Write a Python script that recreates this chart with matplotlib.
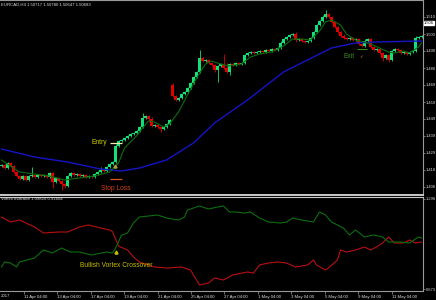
import matplotlib
matplotlib.use("Agg")
import matplotlib.pyplot as plt
import numpy as np

plt.rcParams['font.family'] = ['Liberation Sans', 'DejaVu Sans']

# EURCAD H4 candles (one per bar, bar index on x)
first_open = 1.4208
gap_bar = 57          # Monday gap after the French election
gap_open = 1.4694
closes = [
    1.4214, 1.4196, 1.4226, 1.4208, 1.4172, 1.4148, 1.4130, 1.4148, 1.4124, 1.4148,
    1.4154, 1.4142, 1.4154, 1.4148, 1.4154, 1.4142, 1.4166, 1.4112, 1.4136, 1.4118,
    1.4100, 1.4088, 1.4148, 1.4166, 1.4154, 1.4160, 1.4148, 1.4154, 1.4142, 1.4148,
    1.4142, 1.4160, 1.4172, 1.4184, 1.4178, 1.4202, 1.4220, 1.4232, 1.4328, 1.4358,
    1.4364, 1.4376, 1.4388, 1.4400, 1.4406, 1.4418, 1.4442, 1.4496, 1.4508, 1.4490,
    1.4448, 1.4454, 1.4442, 1.4430, 1.4442, 1.4460, 1.4484, 1.4628, 1.4604, 1.4616,
    1.4640, 1.4652, 1.4676, 1.4706, 1.4742, 1.4772, 1.4856, 1.4838, 1.4844, 1.4826,
    1.4814, 1.4784, 1.4808, 1.4820, 1.4796, 1.4772, 1.4820, 1.4814, 1.4826, 1.4820,
    1.4826, 1.4874, 1.4886, 1.4892, 1.4886, 1.4892, 1.4898, 1.4892, 1.4904, 1.4898,
    1.4910, 1.4904, 1.4916, 1.4946, 1.4970, 1.4982, 1.4994, 1.5000, 1.4964, 1.4970,
    1.4958, 1.4952, 1.4958, 1.4976, 1.5012, 1.5054, 1.5078, 1.5102, 1.5120, 1.5102,
    1.5072, 1.5042, 1.5012, 1.4988, 1.4976, 1.4970, 1.4976, 1.4964, 1.4970, 1.4940,
    1.4928, 1.4958, 1.4970, 1.4922, 1.4904, 1.4910, 1.4886, 1.4856, 1.4874, 1.4844,
    1.4898, 1.4910, 1.4904, 1.4886, 1.4892, 1.4880, 1.4892, 1.4898, 1.4976, 1.4982,
    1.4988]
# wick sizes in pips above / below the body
upper_wick = [
    6, 4, 6, 5, 4, 6, 4, 5, 6, 4,
    48, 5, 4, 6, 5, 4, 6, 5, 4, 6,
    5, 4, 6, 5, 4, 6, 5, 4, 6, 5,
    4, 6, 5, 18, 4, 6, 5, 6, 12, 6,
    5, 4, 6, 5, 4, 6, 8, 30, 6, 5,
    12, 5, 4, 6, 5, 4, 6, 12, 5, 4,
    6, 5, 4, 6, 5, 6, 48, 6, 5, 4,
    6, 5, 4, 6, 60, 30, 6, 5, 4, 6,
    5, 6, 4, 5, 6, 4, 5, 6, 4, 5,
    6, 4, 5, 12, 6, 5, 4, 6, 12, 5,
    4, 6, 5, 4, 6, 8, 6, 10, 24, 6,
    5, 4, 6, 5, 12, 4, 6, 5, 4, 6,
    5, 12, 6, 5, 4, 6, 5, 4, 6, 5,
    6, 5, 4, 6, 5, 4, 6, 5, 12, 6,
    5]
lower_wick = [
    5, 6, 4, 5, 6, 4, 6, 5, 6, 4,
    6, 5, 4, 6, 5, 4, 6, 36, 5, 6,
    36, 12, 5, 4, 6, 5, 4, 6, 5, 4,
    6, 5, 4, 6, 5, 4, 6, 5, 6, 5,
    4, 6, 5, 4, 6, 5, 4, 6, 5, 18,
    6, 5, 4, 18, 5, 6, 4, 6, 6, 5,
    4, 6, 5, 4, 6, 5, 6, 5, 4, 6,
    5, 12, 72, 5, 6, 6, 18, 5, 4, 6,
    5, 4, 6, 5, 4, 6, 5, 4, 6, 5,
    4, 6, 5, 4, 6, 5, 4, 6, 12, 5,
    6, 5, 4, 6, 5, 4, 6, 5, 4, 6,
    5, 4, 6, 5, 4, 6, 5, 4, 6, 8,
    5, 4, 6, 5, 8, 4, 6, 18, 5, 12,
    6, 5, 4, 6, 5, 4, 6, 5, 6, 5,
    4]

# fast SMA (green) and slow MA (blue), read at these bars
sma_bars = [0, 6, 16, 21, 26, 31, 36, 39, 41, 45, 47, 49, 51, 54, 56, 59, 62, 65, 68, 70,
            73, 76, 80, 83, 86, 90, 94, 97, 100, 103, 106, 108, 110, 113, 115, 118, 121,
            123, 126, 129, 131, 134, 136, 139, 140]
sma = [1.4244, 1.4172, 1.4148, 1.4124, 1.4136, 1.4148, 1.4172, 1.4226, 1.4316, 1.4388,
       1.4436, 1.4478, 1.4472, 1.4442, 1.4460, 1.4532, 1.4634, 1.4736, 1.4820, 1.4838,
       1.4820, 1.4808, 1.4820, 1.4862, 1.4880, 1.4892, 1.4928, 1.4970, 1.4970, 1.4964,
       1.5018, 1.5072, 1.5084, 1.5054, 1.5000, 1.4964, 1.4952, 1.4940, 1.4916, 1.4892,
       1.4886, 1.4898, 1.4886, 1.4922, 1.4946]
ma_bars = [0, 11, 22, 33, 40, 46, 55, 64, 71, 82, 94, 102, 110, 118, 125, 140]
ma = [1.4310, 1.4262, 1.4232, 1.4190, 1.4178, 1.4196, 1.4244, 1.4346, 1.4466, 1.4604,
      1.4772, 1.4844, 1.4916, 1.4946, 1.4952, 1.4958]

# Vortex indicator
vip_bars = [0, 1, 3, 5, 6, 11, 14, 17, 20, 23, 26, 30, 35, 37, 38, 40, 42, 44, 46, 52,
            55, 59, 61, 62, 64, 66, 69, 72, 74, 76, 78, 81, 83, 86, 89, 93, 95, 97, 100,
            104, 106, 108, 110, 114, 116, 118, 121, 124, 127, 129, 133, 136, 139, 140]
vi_plus = [0.8256, 0.8601, 0.8532, 0.8256, 0.8601, 0.8878, 0.9431, 0.9223, 0.9569, 0.9292,
           0.9292, 0.9085, 0.9292, 0.9223, 0.9550, 1.0450, 1.0605, 1.1296, 1.1711, 1.1849,
           1.1642, 1.1504, 1.1711, 1.2195, 1.2333, 1.2471, 1.2264, 1.2402, 1.2471, 1.2057,
           1.2057, 1.1987, 1.2057, 1.1642, 1.1365, 1.1296, 1.1365, 1.1642, 1.1504, 1.1365,
           1.2057, 1.1849, 1.1365, 1.0951, 1.0467, 1.0813, 1.0329, 1.0467, 1.0329, 0.9983,
           0.9983, 0.9914, 1.0329, 1.0260]
vim_bars = [0, 3, 6, 11, 14, 19, 22, 26, 29, 33, 36, 37, 39, 42, 44, 46, 51, 55, 60, 63,
            66, 69, 71, 74, 77, 82, 84, 86, 89, 92, 95, 98, 102, 104, 105, 108, 109, 112,
            113, 115, 118, 121, 123, 125, 127, 129, 131, 134, 136, 138, 140]
vi_minus = [1.1711, 1.1365, 1.1504, 1.1020, 1.0605, 1.0674, 1.0674, 1.1020, 1.1158, 1.0951,
            1.0813, 1.0700, 0.9700, 0.9431, 0.8947, 0.8601, 0.8256, 0.8186, 0.8256, 0.8048,
            0.7011, 0.7150, 0.7495, 0.7357, 0.7702, 0.7910, 0.7841, 0.8394, 0.8532, 0.8601,
            0.8532, 0.8256, 0.8394, 0.8739, 0.8394, 0.8048, 0.8186, 0.8739, 0.9431, 0.9292,
            0.9431, 0.9638, 0.9431, 0.9638, 0.9914, 1.0329, 0.9914, 0.9914, 1.0122, 0.9914,
            0.9983]

# price scale (labels are cut by the window edge in the screenshot)
price_ticks = [1.5102, 1.5000, 1.4898, 1.4796, 1.4694, 1.4592, 1.4490, 1.4388, 1.4286,
               1.4184, 1.4082]
vortex_ticks = [1.2955, 0.6735]
date_labels = ["11 Apr 04:00", "13 Apr 04:00", "17 Apr 04:00", "19 Apr 04:00",
               "21 Apr 04:00", "25 Apr 04:00", "27 Apr 04:00", "1 May 04:00", "3 May 04:00",
               "5 May 04:00", "9 May 04:00", "11 May 04:00"]
date_pos = [7.5, 18.6, 29.8, 40.9, 52.0, 63.2, 74.3, 85.4, 96.6, 107.7, 118.8, 130.0]

bull, bear = "#12e078", "#e00000"
txt = "#dcdcdc"
frame = "#9a9a9a"

W, H = 436.0, 300.0
fig = plt.figure(figsize=(W / 100, H / 100), dpi=100, facecolor="black")
ax = fig.add_axes([0, 1 - 195 / H, 423 / W, 195 / H], facecolor="black")
axv = fig.add_axes([0, 1 - 291 / H, 423 / W, 94 / H], facecolor="black")

# candles
o = np.array([first_open] + closes[:-1])
o[gap_bar] = gap_open
c = np.array(closes)
hi = np.maximum(o, c) + np.array(upper_wick) / 1e4
lo = np.minimum(o, c) - np.array(lower_wick) / 1e4
x = np.arange(len(c))
cols = [bull if cc >= oo else bear for oo, cc in zip(o, c)]
ax.vlines(x, lo, hi, colors=cols, lw=0.6)
ax.bar(x, np.maximum(np.abs(c - o), 0.0004), bottom=np.minimum(o, c), width=0.7,
       color=cols, linewidth=0)

ax.plot(ma_bars, ma, color="#1414c8", lw=1.0)
ax.plot(sma_bars, sma, color="#0b6e0b", lw=0.8)

# trade annotations
ax.hlines(1.4346, 36.2, 40.2, color="#f0f0a8", lw=0.9)
ax.text(32.5, 1.4346, "Entry", color="#d2d200", fontsize=4.8, ha="center", va="center")
ax.plot([37.8], [1.4208], marker="^", ms=2.2, color="#a8a040", lw=0)
ax.hlines(1.4130, 36.2, 40.2, color="#e05020", lw=0.9)
ax.text(38.2, 1.4076, "Stop Loss", color="#d84010", fontsize=4.8, ha="center", va="center")
ax.hlines(1.4910, 118.5, 121.8, color="#3c8c1c", lw=0.8)
ax.text(115.8, 1.4868, "Exit", color="#3c8c1c", fontsize=4.8, ha="center", va="center")
ax.text(119.8, 1.4862, "✓", color="#c0b020", fontsize=3.2, ha="center", va="center",
        family="DejaVu Sans")

ax.set_xlim(-0.5, 140.5)
ax.set_ylim(1.4034, 1.5204)
ax.set_xticks([])
ax.yaxis.tick_right()
ax.set_yticks(price_ticks)
ax.set_yticklabels([f"{p:.3f}" for p in price_ticks])
ax.tick_params(axis="y", colors=frame, labelcolor=txt, labelsize=2.9, length=1.5,
               width=0.5, pad=0.5)
ax.text(1.0 + 1 / 423, 1.5066, "1.506", transform=ax.get_yaxis_transform(),
        fontsize=2.9, color="black", va="center", ha="left",
        bbox=dict(boxstyle="square,pad=0.1", fc="white", ec="white"))

# vortex pane
axv.plot(vim_bars, vi_minus, color="#b81010", lw=0.8)
axv.plot(vip_bars, vi_plus, color="#0c6e0c", lw=0.8)
axv.plot([38.2], [0.929], marker="^", ms=2.2, color="#c8c000", lw=0)
axv.text(38.2, 0.8325, "Bullish Vortex Crossover", color="#c8c000", fontsize=4.8,
         ha="center", va="center")
axv.set_xlim(-0.5, 140.5)
axv.set_ylim(0.6597, 1.3093)
axv.yaxis.tick_right()
axv.set_yticks(vortex_ticks)
axv.set_yticklabels([f"{v:.3f}" for v in vortex_ticks])
axv.tick_params(axis="y", colors=frame, labelcolor=txt, labelsize=2.9, length=1.5,
                width=0.5, pad=0.5)
axv.set_xticks(date_pos)
axv.set_xticklabels(date_labels)
for lbl in axv.get_xticklabels():
    lbl.set_ha("left")
axv.tick_params(axis="x", colors=frame, labelcolor=txt, labelsize=3.1, length=2,
                width=0.5, pad=1)
axv.text(0.5 / 423, -0.055, "2017", transform=axv.transAxes, fontsize=3.1, color=txt,
         ha="left", va="center")

for a in (ax, axv):
    a.spines["left"].set_visible(False)
    for s in ("top", "right", "bottom"):
        a.spines[s].set_color(frame)
        a.spines[s].set_linewidth(0.8)
ax.spines["bottom"].set_color("#c8c8c8")
ax.spines["bottom"].set_linewidth(1.4)
axv.spines["top"].set_color("#c8c8c8")

fig.text(0.5 / W, 1 - 4.5 / H, "EURCAD,H4 1.50717 1.50780 1.50647 1.50683", fontsize=3.1,
         color=txt, ha="left", va="center")
fig.text(0.5 / W, 1 - 199.5 / H, "Vortex Indicator 1.09816 0.91604", fontsize=3.1,
         color=txt, ha="left", va="center")

fig.savefig("out.png", dpi=100, facecolor="black")
